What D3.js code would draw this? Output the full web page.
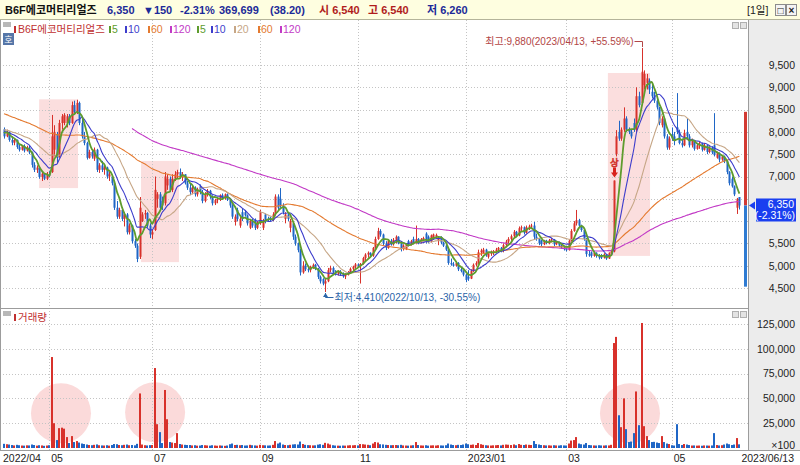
<!DOCTYPE html>
<html>
<head>
<meta charset="utf-8">
<script src="https://cdn.jsdelivr.net/npm/d3@7"></script>
<style>
  body { margin: 0; background: #fff; }
  svg text { font-family: "Liberation Sans", "Noto Sans CJK KR", sans-serif; }
</style>
</head>
<body>
<div id="chart"></div>
<script>
// ---- data ----
const stockName = "B6F에코머티리얼즈";
const firstDay = "2022-04-06", lastDay = "2023-06-13";
const holidays = ["2022-05-05","2022-06-01","2022-06-06","2022-08-15","2022-09-09","2022-09-12",
  "2022-10-03","2022-10-10","2022-12-30","2023-01-23","2023-01-24","2023-03-01",
  "2023-05-01","2023-05-05","2023-05-29","2023-06-06"];

// closes before the visible window, only used to feed the moving averages (estimated)
const preCloses = [9900,10050,10200,10100,9950,9800,9700,9600,9500,
  9300,9200,9150,9050,9000,8950,8900,8850,8900,8800,
  8750,8700,8800,8750,8650,8600,8700,8650,8550,8500,
  8550,8600,8500,8450,8400,8450,8500,8400,8350,8300,
  8400,8350,8300,8250,8300,8200,8150,8200,8150,8100,
  8100,8150,8200,8100,8050,8000,8100,8150,8050,8000,
  7950,8000,8100,8050,8000,7950,8000,8050,8000];

// [open, high, low, close]
const ohlc = [
[8060,8100,7850,7900],[7900,8050,7880,8000],[7990,8010,7780,7820],[7820,7900,7700,7760],[7760,7850,7700,7820],
[7820,7830,7620,7660],[7660,7720,7560,7600],[7600,7700,7580,7680],[7680,7720,7540,7580],[7580,7690,7560,7650],
[7650,7700,7500,7540],[7540,7560,7200,7260],[7260,7320,7100,7150],[7150,7250,7080,7200],[7200,7220,6950,6990],
[6990,7100,6900,7060],[7060,7080,6920,6950],[6950,7100,6920,7050],[7050,7120,6980,7020],[7100,8380,7080,7900],
[7600,8150,7450,8000],[7950,8000,7300,7420],[7450,8270,7420,8200],[8200,8400,8050,8350],[8200,8420,8150,8380],
[8200,8400,8100,8350],[8350,8400,8150,8200],[8200,8680,8180,8600],[8600,8700,8400,8450],[8450,8720,8400,8650],
[8650,8680,8150,8200],[8200,8350,7850,7900],[7900,8000,7700,7750],[7750,7780,7380,7420],[7420,7600,7400,7550],
[7550,7600,7400,7450],[7400,7650,7350,7600],[7600,7620,7100,7150],[7150,7300,7080,7250],[7250,7350,7100,7150],
[7150,7250,7040,7200],[7200,7220,6950,7000],[7000,7100,6900,7050],[7000,7020,6800,6850],[6850,6850,6250,6300],
[6300,6450,6050,6100],[6100,6300,6050,6250],[6250,6300,6000,6050],[6050,6200,5880,6150],[6150,6180,5700,5750],
[5750,5950,5700,5900],[5900,5920,5500,5550],[5550,5600,5400,5450],[5450,5500,5080,5150],[5200,6540,5150,6300],
[6000,6200,5980,6150],[6150,6250,6050,6180],[6180,6200,5850,5900],[5900,5950,5620,5700],[5700,5800,5600,5750],
[5800,7000,5780,6700],[6500,6650,6300,6600],[6600,6650,6250,6300],[6450,6550,6250,6350],[6400,7100,6350,7000],
[6800,7050,6700,6950],[6950,7000,6650,6700],[6700,7050,6650,6950],[6950,7120,6900,7050],[7050,7150,6950,7100],
[7100,7180,6950,7000],[7000,7100,6900,7050],[7050,7050,6820,6850],[6850,6900,6700,6750],[6750,6850,6580,6650],
[6650,6800,6600,6750],[6750,6780,6550,6600],[6600,6750,6550,6700],[6780,6820,6600,6650],[6650,6700,6400,6450],
[6450,6650,6420,6600],[6600,6720,6550,6680],[6680,6700,6500,6550],[6550,6580,6350,6400],[6400,6500,6360,6470],
[6470,6530,6400,6500],[6500,6600,6450,6580],[6580,6620,6480,6520],[6520,6620,6480,6600],[6600,6620,6450,6480],
[6480,6500,6300,6350],[6350,6380,6050,6100],[5980,6150,5900,6100],[6250,6300,6000,6050],[5900,6100,5850,6050],
[6200,6280,6000,6050],[6200,6250,6100,6130],[6130,6150,5900,5950],[5850,6050,5820,6000],[6000,6050,5850,5900],
[6030,6060,5800,5850],[5850,6000,5820,5950],[5950,6250,5920,6200],[5850,6050,5800,6000],[6150,6170,5950,6000],
[6050,6100,5980,6020],[6080,6100,6000,6030],[6030,6200,6000,6150],[6150,6600,6120,6550],[6550,6600,6250,6300],
[6500,6740,6300,6350],[6350,6400,6150,6200],[6050,6200,5950,6150],[6150,6180,6000,6050],[5850,6050,5750,6000],
[5950,5980,5580,5650],[5650,5700,5450,5500],[5500,5520,5300,5350],[5350,5380,4780,4850],[4850,5100,4820,5000],
[5000,5050,4880,4920],[4920,5000,4850,4900],[4900,5000,4850,4980],[4980,5050,4930,5020],[5020,5040,4900,4930],
[4930,4950,4700,4750],[4750,4780,4600,4650],[4700,4720,4560,4600],[4600,4700,4410,4650],[4650,4950,4630,4900],
[4900,5000,4850,4950],[4950,4980,4820,4850],[4850,4900,4780,4820],[4820,4900,4780,4860],[4860,4900,4790,4810],
[4810,4850,4730,4760],[4760,4830,4700,4800],[4800,4880,4780,4850],[4850,4960,4820,4930],[4930,5000,4880,4980],
[4980,5060,4930,5030],[5030,5050,4950,4990],[5000,5060,4600,5040],[5040,5200,5020,5170],[5170,5280,5100,5250],
[5250,5320,5180,5290],[5290,5300,5200,5230],[5230,5420,5200,5400],[5400,5650,5380,5600],[5600,5850,5580,5780],
[5780,5820,5650,5700],[5700,5720,5440,5500],[5500,5550,5350,5400],[5400,5580,5380,5550],[5550,5600,5450,5480],
[5480,5620,5450,5580],[5580,5680,5500,5650],[5650,5660,5480,5500],[5500,5520,5320,5380],[5380,5480,5340,5450],
[5380,5500,5350,5480],[5550,5580,5430,5480],[5480,5580,5450,5550],[5600,5650,5480,5520],[5520,5900,5480,5600],
[5600,5620,5480,5520],[5520,5620,5500,5600],[5600,5650,5550,5620],[5720,5750,5500,5560],[5650,5680,5500,5540],
[5540,5700,5520,5680],[5600,5720,5580,5700],[5650,5720,5600,5690],[5560,5660,5460,5620],[5640,5660,5480,5520],
[5520,5540,5420,5450],[5450,5470,5330,5360],[5360,5370,5020,5060],[5060,5160,5000,5030],[5030,5080,4980,5000],
[5000,5100,4980,5060],[5060,5080,4880,4920],[4920,4950,4850,4880],[4880,4900,4760,4800],[4800,4820,4630,4680],
[4750,4900,4660,4710],[4710,4920,4700,4880],[4880,5050,4860,5020],[5020,5100,4980,5060],[5060,5360,5040,5300],
[5300,5380,5220,5340],[5280,5400,5260,5360],[5360,5380,5200,5240],[5200,5300,5160,5270],[5270,5340,5220,5300],
[5300,5350,5240,5320],[5320,5400,5280,5360],[5360,5420,5300,5400],[5400,5420,5300,5330],[5330,5500,5300,5460],
[5460,5580,5430,5540],[5540,5640,5500,5600],[5600,5700,5560,5660],[5660,5800,5640,5760],[5760,5780,5640,5680],
[5680,5880,5660,5840],[5840,5900,5780,5860],[5860,5880,5700,5740],[5740,5900,5720,5860],[5860,5920,5800,5880],
[5880,5940,5820,5900],[5900,5980,5580,5650],[5650,5720,5560,5600],[5600,5620,5460,5500],[5560,5580,5440,5480],
[5480,5580,5460,5560],[5560,5580,5480,5520],[5500,5600,5480,5570],[5570,5620,5520,5590],[5590,5600,5440,5480],
[5480,5560,5460,5530],[5530,5540,5420,5450],[5450,5470,5380,5410],[5410,5430,5340,5370],[5370,5400,5320,5350],
[5350,5600,5340,5560],[5560,5820,5540,5780],[5780,6000,5760,5950],[5950,6250,5900,6020],[6020,6050,5850,5900],
[5900,5920,5760,5800],[5800,5820,5560,5600],[5600,5620,5200,5260],[5260,5350,5200,5230],[5300,5320,5180,5220],
[5220,5320,5200,5290],[5290,5300,5180,5220],[5220,5260,5140,5180],[5240,5260,5150,5180],[5180,5280,5160,5250],
[5250,5260,5130,5160],[5160,5300,5150,5280],[5280,5360,5250,5320],[5320,6910,5300,6910],[7500,8040,7450,7900],
[8000,8250,7800,7850],[7850,8100,7800,8050],[8050,8550,8000,8300],[8300,8350,8000,8050],[8050,8100,7950,8000],
[8000,8050,7850,7900],[8200,8300,8000,8050],[8050,9000,8000,8800],[8800,8900,8550,8600],[8650,9880,8600,9350],
[9050,9380,8950,9300],[9100,9300,8950,9200],[9150,9200,8850,8950],[8900,9050,8750,8800],[8800,8900,8650,8700],
[8700,8750,8500,8550],[8550,8560,8150,8200],[8150,8350,8100,8300],[8300,8320,7850,7900],[7900,7950,7600,7650],
[7650,7900,7600,7850],[7950,8100,7800,7850],[7900,8000,7700,7800],[8100,8870,7950,8000],[8000,8050,7720,7750],
[7750,7850,7650,7700],[7700,8050,7680,7980],[8000,8300,7850,7900],[7900,7950,7650,7700],[7700,7850,7650,7800],
[7800,7820,7580,7620],[7620,7750,7600,7700],[7700,7780,7620,7740],[7740,7760,7560,7600],[7600,7750,7580,7700],
[7700,7720,7500,7550],[7550,7680,7520,7640],[7640,7680,7500,7540],[7700,8420,7450,7480],[7420,7560,7400,7520],
[7520,7540,7320,7380],[7380,7480,7350,7450],[7450,7470,7300,7340],[7340,7360,7050,7100],[7100,7120,6800,6850],
[6950,7000,6750,6780],[6780,6800,6560,6600],[6300,6520,6160,6500],[6540,6540,6260,6350]
];

// volume in units of 100 shares
const volume = [
4200,3800,3500,3000,2600,3200,2800,2500,2400,2700, 2600,3500,3000,2400,2800,2600,2200,2500,2800,91700,
25000,8000,20000,20500,19500,11000,5000,12000,6000,7000, 5500,4500,4000,3500,3000,2800,3200,3600,2800,2600,
2500,2800,2400,3000,4000,3800,3000,2800,3200,3500, 2800,3000,2700,4200,55000,3500,2800,2600,2900,3000,
80600,24000,16000,5000,58500,29000,6000,5500,5000,15000, 4000,3500,3200,3000,3000,2600,2800,2400,2500,3000,
2800,2600,2400,2800,2500,2300,2600,2400,2200,2500, 3800,4500,3000,3200,2800,3000,2500,2600,3200,2800,
2600,2400,3200,2800,2700,2500,2600,3200,7000,4500, 5500,3500,3000,2800,3200,3600,3800,3500,6500,4000,
3200,2900,2800,2600,2700,3400,3800,3200,5200,4500, 3500,2800,2500,2400,2300,2500,2400,2600,2800,2700,
2900,2600,4000,3800,3500,3200,2800,4500,6000,5500, 3800,3600,3200,3000,2800,2900,3000,2800,3200,2600,
2500,2400,2600,2800,6000,3000,2600,2500,2800,2400, 2600,2700,2500,2800,2600,2500,2800,4500,3500,3000,
2800,3200,3000,3500,4500,3800,3200,3500,3000,5000, 3800,3200,2800,2600,2500,2700,2800,3000,2600,3200,
3500,3300,3000,3600,2800,4000,3200,3000,3500,3200, 3000,7000,4000,3500,3000,2800,2600,2700,2500,2800,
2600,2500,2800,2600,2500,4500,7500,8000,11000,4500, 3800,3500,5000,3000,2800,2600,2500,2800,2600,2500,
2700,2600,3200,105800,112000,33000,21000,50000,19000,6000, 6500,15000,57000,23000,126000,22000,12000,8000,6000,6200,
5500,5000,12000,6000,4500,4000,2800,2500,24000,4000, 3000,4000,3500,3000,2500,2600,2400,2500,2300,2600,
2500,2400,2600,15000,3000,2600,2800,3500,4500,3800, 3000,3500,10000,3697
];

const priceTicks = [4500,5000,5500,6000,6500,7000,7500,8000,8500,9000,9500];
const volumeTicks = [25000,50000,75000,100000,125000];
const legendPeriods = [5,10,60,120,5,10,20,60,120];
// highlighted zones: [first day index, last day index, low price, high price]
const zoneBoxes = [[14,29.5,6740,8730],[54.6,69.7,5080,7350],[240.6,257.4,5220,9320]];
// volume highlight circles: [day index, volume at centre]
const zoneCircles = [[22.7,35000],[60.2,36000],[249.4,35000]];
const rangeBar = [4530,8450];
const lastQuote = {close:6350, change:-150, pct:-2.31, vol:369699, ratio:38.20, open:6540, high:6540, low:6260};

// ---- helpers ----
function tradingDays(a, b, skip) {
  const out = [];
  const d = new Date(a + "T00:00:00Z"), e = new Date(b + "T00:00:00Z");
  while (d <= e) {
    const wd = d.getUTCDay(), s = d.toISOString().slice(0, 10);
    if (wd > 0 && wd < 6 && !skip.includes(s)) out.push(s);
    d.setUTCDate(d.getUTCDate() + 1);
  }
  return out;
}
let dates = tradingDays(firstDay, lastDay, holidays);
dates = dates.slice(dates.length - ohlc.length);
const n = ohlc.length;

const allCloses = preCloses.concat(ohlc.map(d => d[3]));
function movingAverage(p) {
  const res = [];
  for (let i = 0; i < n; i++) {
    const k = i + preCloses.length;
    if (k + 1 < p) { res.push(null); continue; }
    res.push(d3.mean(allCloses.slice(k - p + 1, k + 1)));
  }
  return res;
}

// ---- layout ----
const W = 800, H = 465;
const plotR = 748;
const upC = "#d8312b", downC = "#1f66c6";
const maColor = {5:"#5e9c2e",10:"#3d3dcc",20:"#c6a686",60:"#e47a30",120:"#c23ac6"};
const navy = "#1c2a98", darkRed = "#b01c1c";

const x = d3.scaleLinear().domain([0, n - 1]).range([4, 739.4]);
const yP = d3.scaleLinear().domain([4500, 9500]).range([288, 65]);
const yV = d3.scaleLinear().domain([0, 125000]).range([448, 324]);

const svg = d3.select("#chart").append("svg")
  .attr("width", W).attr("height", H).style("display", "block");

svg.append("rect").attr("width", W).attr("height", H).attr("fill", "#fff");

// header bar
svg.append("rect").attr("x", 0).attr("y", 0).attr("width", W).attr("height", 19).attr("fill", "#fefee0");
svg.append("line").attr("x1", 0).attr("x2", W).attr("y1", 19.5).attr("y2", 19.5).attr("stroke", "#b4b49a");
const fmt = d3.format(",");
const head = [
  [stockName, 5, "#111"],
  [fmt(lastQuote.close), 107, navy],
  ["▼" + Math.abs(lastQuote.change), 143, navy],
  [lastQuote.pct.toFixed(2) + "%", 180, navy],
  [fmt(lastQuote.vol), 219, navy],
  ["(" + lastQuote.ratio.toFixed(2) + ")", 270, navy],
  ["시 " + fmt(lastQuote.open), 319, darkRed],
  ["고 " + fmt(lastQuote.high), 368, darkRed],
  ["저 " + fmt(lastQuote.low), 427, navy]
];
svg.append("g").selectAll("text").data(head).join("text")
  .attr("x", d => d[1]).attr("y", 14)
  .attr("fill", d => d[2]).attr("font-size", 11).attr("font-weight", "bold")
  .text(d => d[0]);
svg.append("text").attr("x", 747).attr("y", 14).attr("font-size", 10.5).attr("fill", "#222").text("[1일]");
[[775, "□"], [786, "×"]].forEach(b => {
  svg.append("rect").attr("x", b[0] + 0.5).attr("y", 4.5).attr("width", 10).attr("height", 11)
    .attr("fill", "#f4f4f4").attr("stroke", "#8c8c8c");
  svg.append("text").attr("x", b[0] + 5.5).attr("y", 14).attr("text-anchor", "middle")
    .attr("font-size", 10).attr("font-weight", "bold").attr("fill", "#222").text(b[1]);
});

// right axis panel
svg.append("rect").attr("x", plotR).attr("y", 20).attr("width", W - plotR).attr("height", 430).attr("fill", "#ececec");

// highlight zones
svg.append("g").selectAll("rect").data(zoneBoxes).join("rect")
  .attr("x", d => x(d[0])).attr("width", d => x(d[1]) - x(d[0]))
  .attr("y", d => yP(d[3])).attr("height", d => yP(d[2]) - yP(d[3]))
  .attr("fill", "#fbdede");
svg.append("g").selectAll("circle").data(zoneCircles).join("circle")
  .attr("cx", d => x(d[0])).attr("cy", d => yV(d[1])).attr("r", 30)
  .attr("fill", "#fbdada");

// grid
const grid = svg.append("g").attr("stroke", "#c4c4c4").attr("stroke-dasharray", "1,2");
grid.selectAll(".hp").data(priceTicks).join("line")
  .attr("x1", 0).attr("x2", plotR).attr("y1", d => Math.round(yP(d)) + 0.5).attr("y2", d => Math.round(yP(d)) + 0.5);
grid.selectAll(".hv").data(volumeTicks).join("line")
  .attr("x1", 0).attr("x2", plotR).attr("y1", d => Math.round(yV(d)) + 0.5).attr("y2", d => Math.round(yV(d)) + 0.5);

const monthMarks = [];
for (let i = 1; i < n; i++) {
  const m = +dates[i].slice(5, 7);
  if (dates[i].slice(5, 7) !== dates[i - 1].slice(5, 7) && m % 2 === 1) {
    monthMarks.push({i: i, label: m === 1 ? dates[i].slice(0, 4) + "/01" : dates[i].slice(5, 7)});
  }
}
grid.selectAll(".vm").data(monthMarks).join("line")
  .attr("x1", d => Math.round(x(d.i)) + 0.5).attr("x2", d => Math.round(x(d.i)) + 0.5)
  .attr("y1", 20).attr("y2", 450);

// frame lines
const frame = svg.append("g").attr("stroke", "#9c9c9c");
frame.append("line").attr("x1", 0).attr("x2", plotR).attr("y1", 308.5).attr("y2", 308.5);
frame.append("line").attr("x1", 0).attr("x2", W).attr("y1", 450.5).attr("y2", 450.5);
frame.append("line").attr("x1", plotR + 0.5).attr("x2", plotR + 0.5).attr("y1", 20).attr("y2", 450);
frame.append("line").attr("x1", 0.5).attr("x2", 0.5).attr("y1", 20).attr("y2", 450);

// volume bars
svg.append("g").selectAll("rect").data(volume).join("rect")
  .attr("x", (d, i) => Math.round(x(i)) - 1).attr("width", 2)
  .attr("y", d => yV(d)).attr("height", d => yV(0) - yV(d))
  .attr("fill", (d, i) => ohlc[i][3] >= ohlc[i][0] ? upC : downC);

// candles
const candles = svg.append("g");
candles.selectAll("line").data(ohlc).join("line")
  .attr("x1", (d, i) => Math.round(x(i)) + 0.5).attr("x2", (d, i) => Math.round(x(i)) + 0.5)
  .attr("y1", d => yP(d[1])).attr("y2", d => yP(d[2]))
  .attr("stroke", d => d[3] >= d[0] ? upC : downC).attr("stroke-width", 1);
candles.selectAll("rect").data(ohlc).join("rect")
  .attr("x", (d, i) => Math.round(x(i)) - 0.5).attr("width", 2)
  .attr("y", d => yP(Math.max(d[0], d[3])))
  .attr("height", d => Math.max(1, Math.abs(yP(d[0]) - yP(d[3]))))
  .attr("fill", d => d[3] >= d[0] ? upC : downC);

// moving averages
svg.append("clipPath").attr("id", "pclip").append("rect")
  .attr("x", 0).attr("y", 20).attr("width", plotR).attr("height", 288);
const maG = svg.append("g").attr("clip-path", "url(#pclip)").attr("fill", "none");
[120, 60, 20, 10, 5].forEach(p => {
  const vals = movingAverage(p);
  const line = d3.line().defined(d => d != null).x((d, i) => x(i)).y(d => yP(d)).curve(d3.curveMonotoneX);
  maG.append("path").datum(vals).attr("d", line)
    .attr("stroke", maColor[p]).attr("stroke-width", p === 5 ? 1.8 : 1.1);
});

// price range bar at right edge
const lastClose = ohlc[n - 1][3];
svg.append("rect").attr("x", 744).attr("width", 3).attr("y", yP(rangeBar[1]))
  .attr("height", yP(lastClose) - yP(rangeBar[1])).attr("fill", "#d23a32");
svg.append("rect").attr("x", 744).attr("width", 3).attr("y", yP(lastClose))
  .attr("height", yP(rangeBar[0]) - yP(lastClose)).attr("fill", "#2f7bd2");

// axes (the 6,000 label sits under the current-price tag, as in the source)
const yc = yP(lastClose);
const axP = svg.append("g").attr("transform", "translate(795,0)")
  .call(d3.axisLeft(yP).tickValues(priceTicks.filter(t => Math.abs(yP(t) - yc - 4) > 12))
    .tickSize(0).tickPadding(0).tickFormat(fmt));
const axV = svg.append("g").attr("transform", "translate(795,0)")
  .call(d3.axisLeft(yV).tickValues(volumeTicks).tickSize(0).tickPadding(0).tickFormat(fmt));
[axP, axV].forEach(a => {
  a.select(".domain").remove();
  a.selectAll("text").attr("font-size", 10.5).attr("fill", "#222")
    .style("font-family", "'Liberation Sans','Noto Sans CJK KR',sans-serif");
});
svg.append("text").attr("x", 795).attr("y", 449).attr("text-anchor", "end")
  .attr("font-size", 10.5).attr("fill", "#222").text("×100");

// date labels
const dl = svg.append("g").attr("font-size", 10.5).attr("fill", "#222");
dl.append("text").attr("x", 3).attr("y", 462).text(dates[0].slice(0, 7).replace("-", "/"));
dl.selectAll(".m").data(monthMarks).join("text")
  .attr("x", d => x(d.i) + 2).attr("y", 462).text(d => d.label);
dl.append("text").attr("x", 794).attr("y", 462).attr("text-anchor", "end")
  .text(dates[n - 1].replace(/-/g, "/"));

// current price tag
svg.append("path").attr("d", `M749,${yc} L755,${yc - 4} L755,${yc + 4} Z`).attr("fill", "#1a3ff0");
svg.append("rect").attr("x", 756).attr("y", yc - 7).attr("width", 40).attr("height", 23).attr("fill", "#1a3ff0");
svg.append("text").attr("x", 794).attr("y", yc + 3).attr("text-anchor", "end")
  .attr("font-size", 10.5).attr("fill", "#fff").text(fmt(lastClose));
svg.append("text").attr("x", 795).attr("y", yc + 14).attr("text-anchor", "end")
  .attr("font-size", 10.5).attr("fill", "#fff").text("(" + lastQuote.pct.toFixed(2) + "%)");

// high / low annotations
const iMax = d3.maxIndex(ohlc, d => d[1]), iMin = d3.minIndex(ohlc, d => d[2]);
const hi = ohlc[iMax][1], lo = ohlc[iMin][2];
const pctVs = v => ((v / lastClose - 1) * 100).toFixed(2);
const xm = Math.round(x(iMax)) + 0.5;
svg.append("text").attr("x", xm - 9).attr("y", 45).attr("text-anchor", "end")
  .attr("font-size", 10).attr("fill", "#b24646")
  .text(`최고:${fmt(hi)}(${dates[iMax].replace(/-/g, "/")}, +${pctVs(hi)}%)`);
svg.append("path").attr("d", `M${xm - 8},41.5 H${xm} V${yP(hi) - 1}`)
  .attr("fill", "none").attr("stroke", "#b24646");
const xn = Math.round(x(iMin)) + 0.5;
svg.append("path").attr("d", `M${xn},${yP(lo) + 1} V297.5 H${xn + 8}`)
  .attr("fill", "none").attr("stroke", "#2a64a8");
svg.append("path").attr("d", `M${xn},${yP(lo) + 1} l-2.5,4 h5 Z`).attr("fill", "#2a64a8");
svg.append("text").attr("x", xn + 9).attr("y", 301)
  .attr("font-size", 10).attr("fill", "#2a64a8")
  .text(`최저:${fmt(lo)}(${dates[iMin].replace(/-/g, "/")}, ${pctVs(lo)}%)`);

// upper-limit marker
const iLimit = d3.maxIndex(ohlc, (d, i) => i > 0 ? d[3] / ohlc[i - 1][3] : 0);
const xl = Math.round(x(iLimit)) + 0.5, yl = yP(ohlc[iLimit][1]);
svg.append("text").attr("x", xl).attr("y", yl - 15).attr("text-anchor", "middle")
  .attr("font-size", 9).attr("fill", "#fff").attr("stroke", "#d23a32").attr("stroke-width", 0.8).text("상");
svg.append("path").attr("d", `M${xl - 1.5},${yl - 13} h3 v5 h2 l-3.5,5 l-3.5,-5 h2 Z`).attr("fill", "#d8231d");

// legend row
const lg = svg.append("g").attr("font-size", 10.5);
lg.append("rect").attr("x", 3).attr("y", 22).attr("width", 8).attr("height", 5).attr("fill", "#b8b8b8");
lg.append("rect").attr("x", 14).attr("y", 26).attr("width", 2).attr("height", 7).attr("fill", "#c03030");
lg.append("text").attr("x", 18).attr("y", 33).attr("fill", "#c03030").text(stockName);
const legX = [109, 125, 148, 170, 197, 211, 234, 258, 280];
legendPeriods.forEach((p, k) => {
  lg.append("rect").attr("x", legX[k]).attr("y", 26).attr("width", 2).attr("height", 7).attr("fill", maColor[p]);
  lg.append("text").attr("x", legX[k] + 3).attr("y", 33).attr("fill", maColor[p]).text(p);
});
lg.append("rect").attr("x", 3).attr("y", 33).attr("width", 11).attr("height", 12).attr("fill", "#5676a8");
lg.append("text").attr("x", 8.5).attr("y", 43).attr("text-anchor", "middle").attr("font-size", 9)
  .attr("fill", "#fff").text("호");

// volume panel label
svg.append("rect").attr("x", 3).attr("y", 311).attr("width", 8).attr("height", 5).attr("fill", "#b8b8b8");
svg.append("rect").attr("x", 14).attr("y", 314).attr("width", 2).attr("height", 7).attr("fill", "#c03030");
svg.append("text").attr("x", 18).attr("y", 321).attr("font-size", 10.5).attr("fill", "#c03030").text("거래량");

// small panel buttons
[22, 311].forEach(yy => {
  [732, 740].forEach(xx => {
    svg.append("rect").attr("x", xx + 0.5).attr("y", yy + 0.5).attr("width", 6).attr("height", 6)
      .attr("fill", "#e4e4e4").attr("stroke", "#b0b0b0");
  });
});
</script>
</body>
</html>
